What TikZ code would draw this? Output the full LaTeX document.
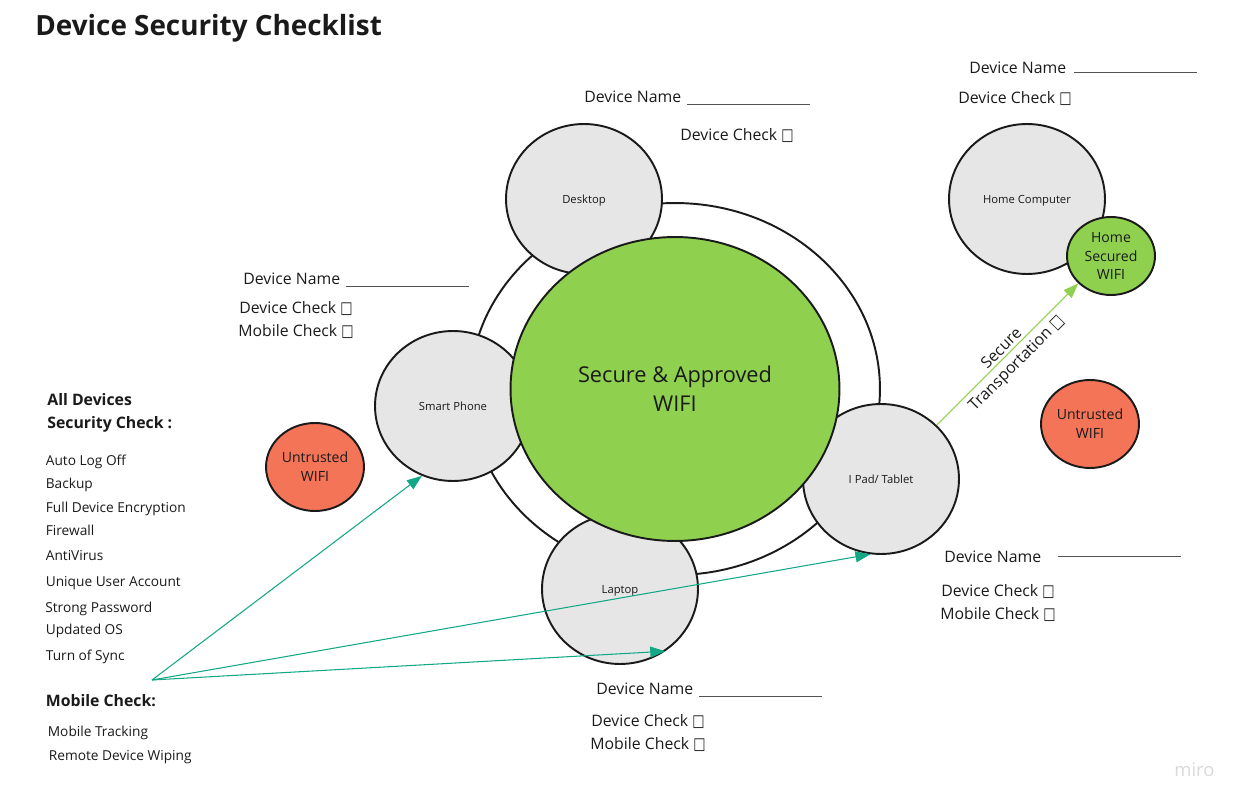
\documentclass[tikz,border=0pt]{standalone}
\usepackage{fontspec}
\setmainfont{Open Sans}
\newfontfamily\boxfont{DejaVu Sans}
\usetikzlibrary{shapes.geometric,arrows.meta}
\definecolor{devgray}{HTML}{E6E6E6}
\definecolor{wifigreen}{HTML}{8FD14F}
\definecolor{wifired}{HTML}{F47458}
\definecolor{arrowteal}{HTML}{12A886}
\definecolor{inkgray}{HTML}{1A1A1A}
\newcommand{\chk}{{\boxfont\scalebox{.82}[1.05]{□}}}
\tikzset{
  device/.style={ellipse, draw=inkgray, line width=1.1pt, fill=devgray, inner sep=0, minimum width=3.12cm, minimum height=3cm, font=\fontsize{6.4}{8}\selectfont, text=inkgray, text height=6.9pt, text depth=1.44pt},
  wifi/.style={ellipse, draw=inkgray, line width=1.1pt, align=center, inner sep=0, font=\fontsize{8}{10.7}\selectfont, text=inkgray},
  lbl/.style={anchor=west, inner sep=0, text=inkgray, font=\fontsize{9}{11}\selectfont, text height=8.5pt, text depth=1.4pt},
  item/.style={anchor=west, inner sep=0, text=inkgray, font=\fontsize{7.8}{10}\selectfont, text height=7pt, text depth=1.3pt},
  head/.style={anchor=west, inner sep=0, text=inkgray, font=\fontsize{9}{11}\selectfont\bfseries, text height=7pt, text depth=1.3pt},
  blank/.style={draw=inkgray!75, line width=.45pt},
  tealarrow/.style={draw=arrowteal, line width=.6pt, -{Triangle[length=.3cm,width=.22cm]}},
}
\begin{document}
\begin{tikzpicture}[x=.02cm,y=-.02cm]
\useasboundingbox (0,0) rectangle (1242,804);
\node[anchor=west, inner sep=0, text=inkgray, font=\fontsize{15.85}{20}\selectfont\bfseries] (title) at (35,28) {Device Security Checklist};
% ring and the devices on it
\node[ellipse, draw=inkgray, line width=1.1pt, fill=white, inner sep=0, minimum width=8.2cm, minimum height=7.44cm] (ring) at (675,389) {};
\node[device] (desktop) at (584,199) {Desktop};
\node[device] (phone) at (453,406) {Smart Phone};
\node[device] (laptop) at (620,589) {Laptop};
\node[device] (tablet) at (881,479) {I Pad/ Tablet};
\node[device] (home) at (1027,199) {Home Computer};
\node[wifi, fill=wifigreen, minimum width=6.58cm, minimum height=6.08cm, font=\fontsize{12.4}{16.5}\selectfont] (secure) at (675,389) {Secure \& Approved\\WIFI};
\node[wifi, fill=wifigreen, minimum width=1.76cm, minimum height=1.56cm] (homewifi) at (1111,256) {Home\\Secured\\WIFI};
\node[wifi, fill=wifired, minimum width=1.96cm, minimum height=1.76cm] (untrustA) at (315,467) {Untrusted\\WIFI};
\node[wifi, fill=wifired, minimum width=1.96cm, minimum height=1.76cm] (untrustB) at (1090,424) {Untrusted\\WIFI};
% arrows
\coordinate (src) at (152,680);
\draw[tealarrow] (src) -- (phone.-114);
\draw[tealarrow] (src) -- (laptop.-54.6);
\draw[tealarrow] (src) -- (tablet.-98.5);
\draw[draw=wifigreen, line width=.6pt, -{Triangle[length=.3cm,width=.22cm]}] (tablet.44.5) -- (homewifi.220);
\node[rotate=45, inner sep=0, text=inkgray, font=\fontsize{9}{11}\selectfont] (sec) at (1001,348) {Secure};
\node[rotate=45, inner sep=0, text=inkgray, font=\fontsize{9.1}{11}\selectfont] (trans) at (1017,364) {Transportation \chk};
% desktop labels
\node[lbl] (nameA) at (584,96.5) {Device Name};
\coordinate (lineAa) at (687,104);
\coordinate (lineAb) at (810,104);
\draw[blank] (lineAa) -- (lineAb);
\node[lbl] (checkA) at (680,134.5) {Device Check \chk};
% home labels
\node[lbl] (nameB) at (969,67) {Device Name};
\coordinate (lineBa) at (1074,72);
\coordinate (lineBb) at (1197,72);
\draw[blank] (lineBa) -- (lineBb);
\node[lbl] (checkB) at (958,97.5) {Device Check \chk};
% phone labels
\node[lbl] (nameC) at (243,278.5) {Device Name};
\coordinate (lineCa) at (346,286);
\coordinate (lineCb) at (469,286);
\draw[blank] (lineCa) -- (lineCb);
\node[lbl] (checkC) at (239,307.5) {Device Check \chk};
\node[lbl] (mobileC) at (238,330.5) {Mobile Check \chk};
% tablet labels
\node[lbl] (nameD) at (944,556.5) {Device Name};
\coordinate (lineDa) at (1058,556);
\coordinate (lineDb) at (1181,556);
\draw[blank] (lineDa) -- (lineDb);
\node[lbl] (checkD) at (941,590.5) {Device Check \chk};
\node[lbl] (mobileD) at (940,613.5) {Mobile Check \chk};
% laptop labels
\node[lbl] (nameE) at (596,688.5) {Device Name};
\coordinate (lineEa) at (699,696);
\coordinate (lineEb) at (822,696);
\draw[blank] (lineEa) -- (lineEb);
\node[lbl] (checkE) at (591,720.5) {Device Check \chk};
\node[lbl] (mobileE) at (590,743.5) {Mobile Check \chk};
% left column
\node[head] (allA) at (47,400) {All Devices};
\node[head] (allB) at (47,423) {Security Check :};
\node[item] (it1) at (45.5,460) {Auto Log Off};
\node[item] (it2) at (45.5,483) {Backup};
\node[item] (it3) at (45.5,507) {Full Device Encryption};
\node[item] (it4) at (45.5,530) {Firewall};
\node[item] (it5) at (45.5,555) {AntiVirus};
\node[item] (it6) at (45.5,581) {Unique User Account};
\node[item] (it7) at (45,607) {Strong Password};
\node[item] (it8) at (45.5,629) {Updated OS};
\node[item] (it9) at (45.5,655) {Turn of Sync};
\node[head] (mob) at (45.5,701) {Mobile Check:};
\node[item] (mb1) at (47.5,731) {Mobile Tracking};
\node[item] (mb2) at (48.5,755) {Remote Device Wiping};
\node[anchor=west, inner sep=0, text=black!15, font=\fontsize{10.5}{11}\selectfont] (miro) at (1174,770) {miro};
\end{tikzpicture}
\end{document}
